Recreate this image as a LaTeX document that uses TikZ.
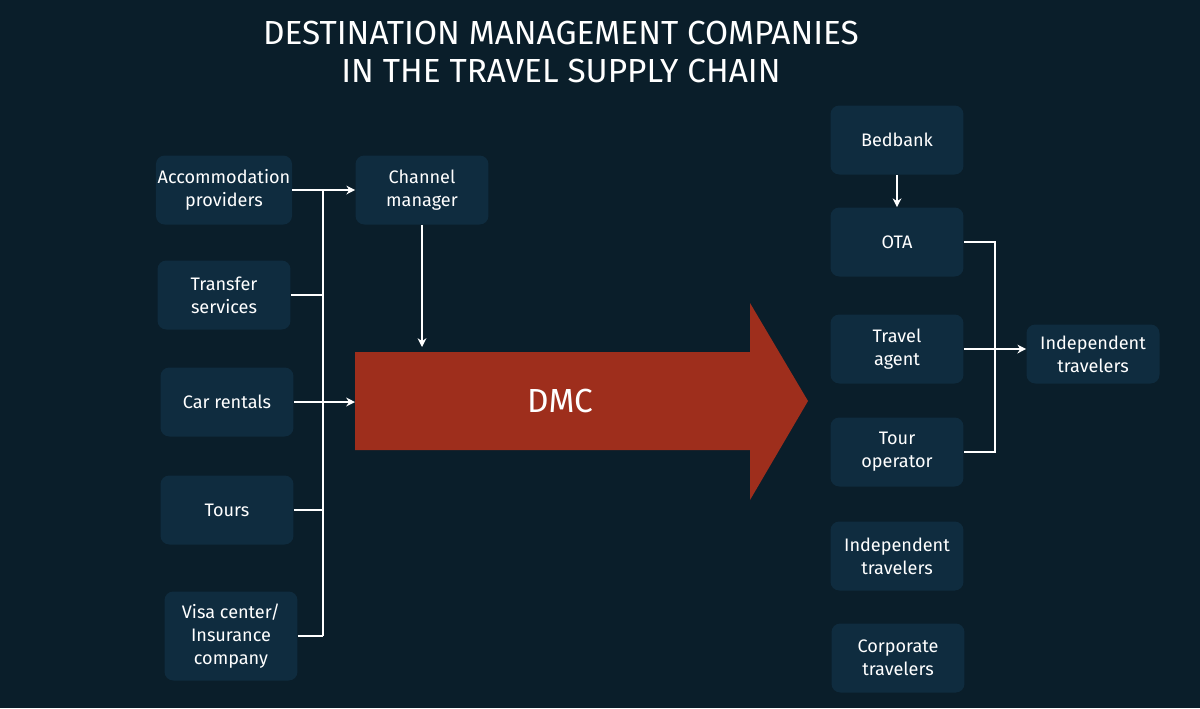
\documentclass[tikz,border=0pt]{standalone}
\usepackage{fontspec}
\setmainfont{Fira Sans}
\usetikzlibrary{arrows.meta}
\definecolor{bgnavy}{HTML}{0A1E2A}
\definecolor{boxblue}{HTML}{0F2C3F}
\definecolor{dmcred}{HTML}{9E2E1C}
\tikzset{
  card/.style={fill=boxblue,rounded corners=5pt,minimum width=2.66cm,minimum height=1.38cm,
    inner xsep=1pt,text=white,align=center,font=\fontsize{10.3}{13}\selectfont},
  link/.style={draw=white,line width=1.2pt},
  >={Stealth[length=5pt,width=5pt]}
}
\begin{document}
\begin{tikzpicture}[x=0.02cm,y=-0.02cm]
  % background
  \fill[bgnavy] (0,0) rectangle (1200,708);
  \useasboundingbox (0,0) rectangle (1200,708);
  % title
  \node[text=white,align=center,font=\fontsize{19}{22}\selectfont] (title) at (561,52)
    {DESTINATION MANAGEMENT COMPANIES\\IN THE TRAVEL SUPPLY CHAIN};
  % DMC arrow
  \fill[dmcred] (355,352)--(750,352)--(750,303)--(808,401)--(750,500)--(750,450)--(355,450)--cycle;
  \node[text=white,font=\fontsize{19}{22}\selectfont] (dmc) at (560,401) {DMC};
  \coordinate (dmcin) at (355,402);
  \coordinate (dmctop) at (422,347);
  % suppliers
  \node[card] (acc) at (224,190) {Accommodation\\providers};
  \node[card] (trf) at (224,295) {Transfer\\services};
  \node[card] (car) at (227,402) {Car rentals};
  \node[card] (tour) at (227,510) {Tours};
  \node[card,minimum height=1.78cm] (visa) at (231,636) {Visa center/\\Insurance\\company};
  \node[card] (chm) at (422,190) {Channel\\manager};
  % distribution
  \node[card] (bed) at (897,140) {Bedbank};
  \node[card] (ota) at (897,242) {OTA};
  \node[card] (agent) at (897,349) {Travel\\agent};
  \node[card] (top) at (897,452) {Tour\\operator};
  \node[card] (indep) at (897,556) {Independent\\travelers};
  \node[card] (corp) at (898,658) {Corporate\\travelers};
  \node[card,minimum height=1.18cm] (indr) at (1093,354) {Independent\\travelers};
  % left bus
  \coordinate (busT) at (323,190);
  \coordinate (busB) at (323,636);
  \draw[link] (busT)--(busB);
  \draw[link] (acc.east)--(busT);
  \draw[link] (trf.east)--(323,295);
  \draw[link] (car.east)--(323,402);
  \draw[link] (tour.east)--(323,510);
  \draw[link] (visa.east)--(busB);
  \draw[link,->] (busT)--(chm.west);
  \draw[link,->] (323,402)--(dmcin);
  \draw[link,->] (chm.south)--(dmctop);
  % right side
  \draw[link,->] (bed.south)--(ota.north);
  \coordinate (rbT) at (995,242);
  \coordinate (rbB) at (995,452);
  \draw[link] (ota.east)--(rbT)--(rbB)--(top.east);
  \draw[link,->] (agent.east)--(indr.west|-agent.east);
\end{tikzpicture}
\end{document}
